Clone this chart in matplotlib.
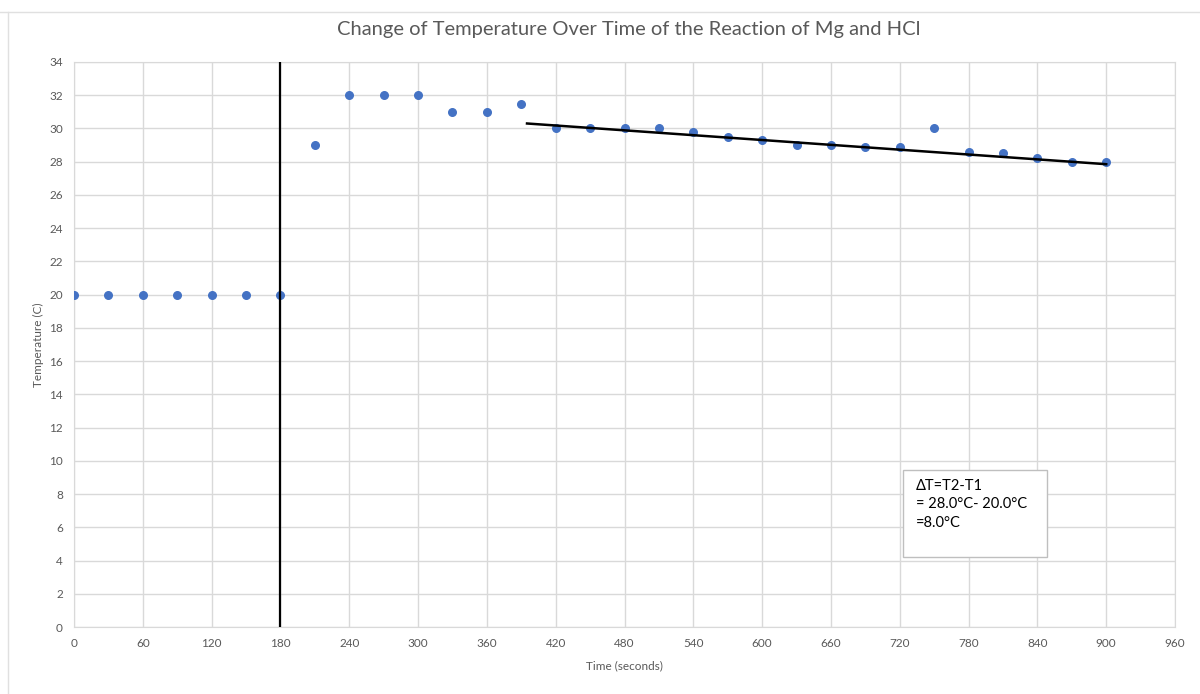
import matplotlib.pyplot as plt
from matplotlib.lines import Line2D
from matplotlib.patches import Rectangle

plt.rcParams['font.family'] = ['Lato', 'DejaVu Sans']

# time (s) and temperature (C) readings
time_s = [0, 30, 60, 90, 120, 150, 180, 210, 240, 270, 300, 330, 360, 390,
          420, 450, 480, 510, 540, 570, 600, 630, 660, 690, 720, 750, 780,
          810, 840, 870, 900]
temp_c = [20, 20, 20, 20, 20, 20, 20, 29, 32, 32, 32, 31, 31, 31.5,
          30, 30, 30, 30, 29.8, 29.5, 29.3, 29.0, 29.0, 28.9, 28.9, 30.0, 28.6,
          28.5, 28.2, 28.0, 28.0]

# hand drawn cooling trend line and the reaction start marker
trend_x = [395, 900]
trend_y = [30.3, 27.85]
start_x = 180

x_ticks = list(range(0, 961, 60))
y_ticks = list(range(0, 35, 2))

title = 'Change of Temperature Over Time of the Reaction of Mg and HCl'
note = 'ΔT=T2-T1\n= 28.0°C- 20.0°C\n=8.0°C'

W, H = 1200, 694
fig = plt.figure(figsize=(12, 6.94), dpi=100)
ax = fig.add_axes([74 / W, 1 - 627 / H, (1175 - 74) / W, (627 - 62) / H])

grid_col = '#D9D9D9'
text_col = '#595959'

ax.set_xlim(0, 960)
ax.set_ylim(0, 34)
ax.set_xticks(x_ticks)
ax.set_yticks(y_ticks)
ax.grid(True, color=grid_col, linewidth=1)
ax.set_axisbelow(True)
for s in ax.spines.values():
    s.set_color(grid_col)
ax.tick_params(length=0, labelsize=8.5, labelcolor=text_col, pad=8)

ax.scatter(time_s, temp_c, s=30, color='#4472C4', zorder=3)
ax.plot(trend_x, trend_y, color='black', linewidth=1.8, zorder=4)
ax.axvline(start_x, color='black', linewidth=1.6, zorder=4)

fig.text(0.524, 1 - 30 / H, title, ha='center', va='center', fontsize=14.5, color=text_col)
ax.set_xlabel('Time (seconds)', fontsize=8.5, color=text_col, labelpad=8)
ax.set_ylabel('Temperature (C)', fontsize=8.5, color=text_col, labelpad=4)

# text box with the temperature change
fig.add_artist(Rectangle((903 / W, 1 - 557 / H), (1047 - 903) / W, (557 - 470) / H,
                         transform=fig.transFigure, facecolor='white',
                         edgecolor='#BFBFBF', linewidth=1, zorder=5))
fig.text(916 / W, 1 - 479 / H, note, ha='left', va='top', fontsize=10.5,
         color='black', linespacing=1.4, zorder=6)

# faint spreadsheet cell borders around the chart
fig.add_artist(Line2D([0, 1], [1 - 12 / H] * 2, color='#E0E0E0', linewidth=1, transform=fig.transFigure))
fig.add_artist(Line2D([8 / W] * 2, [0, 1 - 12 / H], color='#E0E0E0', linewidth=1, transform=fig.transFigure))

fig.savefig('out.png', dpi=100)
